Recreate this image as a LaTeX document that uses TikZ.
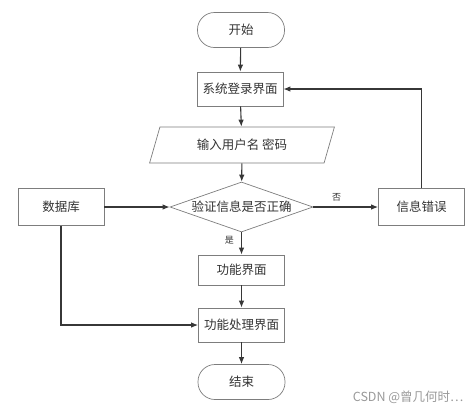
\documentclass[tikz,border=0pt]{standalone}
\usepackage{fontspec}
\newfontfamily\cjk{Noto Sans CJK SC}
\usepackage{xcolor}
\usetikzlibrary{shapes.geometric,arrows.meta,positioning}
\definecolor{boxgray}{RGB}{125,125,125}
\definecolor{linegray}{RGB}{55,55,55}

\begin{document}
\begin{tikzpicture}[x=1pt,y=-1pt,  %coordinates taken in pixels of the page
		font=\cjk\fontsize{12.5}{14}\selectfont,
		base/.style={draw=boxgray, line width=0.7pt, inner sep=1pt, text=black!80},
		term/.style={base, rectangle, rounded corners=17pt, minimum width=87pt, minimum height=35pt},
		proc/.style={base, rectangle, minimum width=86pt, minimum height=34pt},
		io/.style={base, trapezium, trapezium left angle=67, trapezium right angle=113,
			trapezium stretches=true, minimum width=185pt, minimum height=36pt},
		decide/.style={base, diamond, aspect=2.86, inner sep=0pt, minimum width=143pt, minimum height=50pt},
		flow/.style={draw=linegray, line width=1.1pt, -{Latex[length=7pt,width=5.5pt]}},
		small/.style={font=\cjk\fontsize{9}{10}\selectfont, text=black!80, inner sep=1pt}
	]
		\useasboundingbox (0,0) rectangle (474,408);

		\node[term] (start) at (241,30) {开始};
		\node[proc] (login) at (240,89) {系统登录界面};
		\node[io] (input) at (242,145) {输入用户名 密码};
		\node[decide] (check) at (241.5,207) {验证信息是否正确};
		\node[proc, minimum height=37pt] (db) at (61,207) {数据库};
		\node[proc, minimum height=37pt] (error) at (421.5,207) {信息错误};
		\node[proc, minimum height=30pt] (func) at (241.5,270) {功能界面};
		\node[proc] (handle) at (241.5,325) {功能处理界面};
		\node[term] (end) at (241.5,382) {结束};

		\draw[flow] (start) -- (login);
		\draw[flow] (login) -- (input);
		\draw[flow] (input) -- (check);
		\draw[flow] (db) -- (check);
		\draw[flow] (check) -- node[small, pos=0.36, above=4pt] {否} (error);
		\draw[flow] (check) -- node[small, pos=0.35, left=6pt] {是} (func);
		\draw[flow] (error.north) |- (login.east);
		\draw[flow] (func) -- (handle);
		\draw[flow] (db.south) |- (handle.west);
		\draw[flow] (handle) -- (end);

		\node[font=\cjk\fontsize{12.5}{14}\selectfont, text=black!40, anchor=east] (mark) at (467,397) {CSDN @曾几何时…};
	\end{tikzpicture}
\end{document}
